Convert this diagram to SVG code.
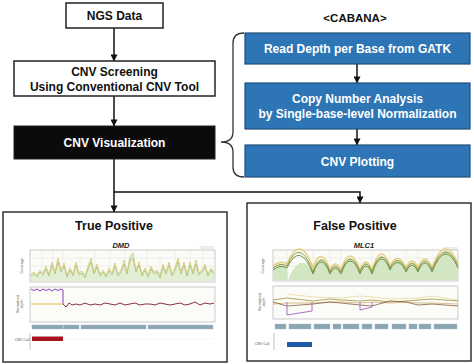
<svg xmlns="http://www.w3.org/2000/svg" width="474" height="364" viewBox="0 0 474 364">
<style>
.t{font-family:"Liberation Sans",Arial,sans-serif;font-weight:bold;text-anchor:middle}
.bx{fill:#fff;stroke:#222;stroke-width:1.5}
.bl{fill:#2e75b6;stroke:#1f4e79;stroke-width:1.2}
.w{fill:#fff}
.con{fill:none;stroke:#111;stroke-width:1.5}
.pnl{fill:#fbfcf8;stroke:#a8a8a8;stroke-width:0.6}
.grid{stroke:#e3e3e3;stroke-width:0.5}
.ex{fill:#8ba6b3;stroke:#a9bcc6;stroke-width:0.4}
.ax{font-family:"Liberation Sans",Arial,sans-serif;font-size:3.5px;fill:#555}
</style>
<defs>
<marker id="ah" viewBox="0 0 8 8" refX="7.5" refY="4" markerWidth="7" markerHeight="7" markerUnits="userSpaceOnUse" orient="auto">
<path d="M0,0 L8,4 L0,8 z" fill="#111"/>
</marker>
</defs>
<rect width="474" height="364" fill="#fff"/>

<g id="connectors">
<path class="con" d="M114,28 V61" marker-end="url(#ah)"/>
<path class="con" d="M114,96 V126" marker-end="url(#ah)"/>
<path class="con" d="M114,159 V192 H360 V203" marker-end="url(#ah)"/>
<path class="con" d="M114,192 V212" marker-end="url(#ah)"/>
<path class="con" d="M357,64 V83" marker-end="url(#ah)"/>
<path class="con" d="M357,129 V145" marker-end="url(#ah)"/>
<path d="M244,33 Q233,33 233,43 V132 Q233,142 221,142 Q233,142 233,152 V167 Q233,177 244,177" fill="none" stroke="#333" stroke-width="1.3"/>
</g>

<g id="ngs">
<rect class="bx" x="66" y="3" width="97" height="25"/>
<text class="t" x="114.5" y="20" font-size="12" fill="#111">NGS Data</text>
</g>
<g id="screening">
<rect class="bx" x="14" y="61" width="201" height="35"/>
<text class="t" x="114.5" y="75.5" font-size="12" fill="#111">CNV Screening</text>
<text class="t" x="114.5" y="90.5" font-size="12" fill="#111">Using Conventional CNV Tool</text>
</g>
<g id="visualization">
<rect x="14" y="126" width="201" height="33" fill="#0b0b0b" stroke="#222" stroke-width="1"/>
<text class="t w" x="114.5" y="146.5" font-size="12">CNV Visualization</text>
</g>

<g id="cabana-title">
<text class="t" x="355" y="21.5" font-size="11.5" fill="#111">&lt;CABANA&gt;</text>
</g>
<g id="read-depth">
<rect class="bl" x="245" y="33" width="225" height="31"/>
<text class="t w" x="357.5" y="53" font-size="12">Read Depth per Base from GATK</text>
</g>
<g id="copy-number">
<rect class="bl" x="245" y="83" width="225" height="46"/>
<text class="t w" x="357.5" y="103" font-size="12">Copy Number Analysis</text>
<text class="t w" x="357.5" y="117.5" font-size="12">by Single-base-level Normalization</text>
</g>
<g id="plotting">
<rect class="bl" x="245" y="145" width="225" height="32"/>
<text class="t w" x="357.5" y="165.5" font-size="12">CNV Plotting</text>
</g>

<g id="true-positive">
<rect x="3" y="212" width="224" height="150" fill="#fff" stroke="#333" stroke-width="1.5"/>
<text class="t" x="114" y="230" font-size="12.5" fill="#111">True Positive</text>
<text class="t" x="121" y="247.5" font-size="7.5" font-style="italic" fill="#222">DMD</text>
<rect x="200" y="246.5" width="14" height="2" fill="#eee" stroke="#ccc" stroke-width="0.3"/>
<rect class="pnl" x="30" y="250" width="185" height="32"/>
<g class="grid">
<path d="M42,250V282M53,250V282M63,250V282M80,250V282M95,250V282M110,250V282M125,250V282M147,250V282M160,250V282M175,250V282M190,250V282M203,250V282"/>
<path d="M42,287V322M53,287V322M63,287V322M80,287V322M95,287V322M110,287V322M125,287V322M147,287V322M160,287V322M175,287V322M190,287V322M203,287V322"/>
<path d="M30,258H215M30,266H215M30,274H215M30,292H215M30,298H215M30,310H215M30,316H215"/>
</g>
<polygon points="31,274 34,272 37,275 40,270 43,273 46,266 49,274 52,262 55,272 58,258 61,270 64,263 67,275 70,268 73,274 76,262 79,273 82,271 85,276 88,266 91,258 94,272 97,264 100,274 103,270 106,275 109,268 112,273 115,263 118,274 121,270 124,260 127,272 130,256 133,253 136,270 139,262 142,274 145,268 148,275 151,266 154,272 157,270 160,276 163,264 166,272 169,262 172,274 175,268 178,258 181,272 184,262 187,274 190,262 193,272 196,260 199,273 202,270 205,264 208,274 211,268 214,272 214,281 31,281" fill="#e2efd4"/>
<polyline points="31,276 34,274 37,277 40,272 43,275 46,269 49,276 52,265 55,274 58,262 61,272 64,266 67,277 70,270 73,276 76,265 79,275 82,273 85,278 88,269 91,262 94,274 97,267 100,276 103,272 106,277 109,271 112,275 115,266 118,276 121,272 124,264 127,274 130,260 133,258 136,272 139,265 142,276 145,270 148,277 151,269 154,274 157,272 160,278 163,267 166,274 169,265 172,276 175,270 178,262 181,274 184,265 187,276 190,265 193,274 196,264 199,275 202,272 205,267 208,276 211,270 214,274" fill="none" stroke="#7ea44e" stroke-width="0.5"/>
<polyline points="31,274 34,272 37,275 40,270 43,273 46,266 49,274 52,262 55,272 58,258 61,270 64,263 67,275 70,268 73,274 76,262 79,273 82,271 85,276 88,266 91,258 94,272 97,264 100,274 103,270 106,275 109,268 112,273 115,263 118,274 121,270 124,260 127,272 130,256 133,253 136,270 139,262 142,274 145,268 148,275 151,266 154,272 157,270 160,276 163,264 166,272 169,262 172,274 175,268 178,258 181,272 184,262 187,274 190,262 193,272 196,260 199,273 202,270 205,264 208,274 211,268 214,272" fill="none" stroke="#d9c060" stroke-width="0.7"/>
<rect class="pnl" x="30" y="287" width="185" height="35" fill="none"/>
<polyline points="31,304 63,304" fill="none" stroke="#e0c050" stroke-width="1"/>
<polyline points="31,289 34,290.5 37,289 40,291 43,289 46,290.5 49,289 52,291 55,289 58,290.5 61,289 63,290 63,304" fill="none" stroke="#8a3fc0" stroke-width="1"/>
<polyline points="63,304 66,307 69,303 72,305 76,304 80,305 85,303 90,305 95,304 100,305 105,303 110,304 115,305 120,303 125,305 130,304 135,303 140,305 145,304 150,304 155,305 160,303 165,304 170,305 175,304 180,303 185,305 190,304 195,302 200,305 205,303 210,304 214,303" fill="none" stroke="#7a1a2a" stroke-width="0.9"/>
<rect class="ex" x="32" y="325" width="31" height="4"/>
<rect class="ex" x="63.5" y="325" width="15.5" height="4"/>
<rect class="ex" x="81" y="325" width="65" height="4"/>
<rect class="ex" x="148" y="325" width="65" height="4"/>
<path d="M30,333V350" stroke="#999" stroke-width="0.6"/>
<path d="M30,339H215" stroke="#eee" stroke-width="0.5"/>
<rect x="32" y="336.5" width="31" height="4.5" fill="#a3141f"/>
<text class="ax" x="23" y="266" transform="rotate(-90 23 266)" text-anchor="middle">Coverage</text>
<text class="ax" x="19" y="304" transform="rotate(-90 19 304)" text-anchor="middle">Normalized</text>
<text class="ax" x="23" y="304" transform="rotate(-90 23 304)" text-anchor="middle">depth</text>
<text class="ax" x="22" y="341" text-anchor="middle">CNV Call</text>
</g>

<g id="false-positive">
<rect x="247" y="203" width="224" height="158" fill="#fff" stroke="#333" stroke-width="1.5"/>
<text class="t" x="355" y="230" font-size="12.5" fill="#111">False Positive</text>
<text class="t" x="364" y="248" font-size="7.5" font-style="italic" fill="#222">MLC1</text>
<rect x="443" y="247.5" width="14" height="2" fill="#eee" stroke="#ccc" stroke-width="0.3"/>
<rect class="pnl" x="273" y="250" width="185" height="31"/>
<g class="grid">
<path d="M287,250V281M313,250V281M330,250V281M341,250V281M360,250V281M372,250V281M390,250V281M406,250V281M418,250V281M432,250V281"/>
<path d="M287,286V319M313,286V319M330,286V319M341,286V319M360,286V319M372,286V319M390,286V319M406,286V319M418,286V319M432,286V319"/>
<path d="M273,258H458M273,266H458M273,274H458M273,292H458M273,298H458M273,308H458M273,314H458"/>
</g>
<path d="M273,268 Q280,262 287,266 L288,280 Q300,250 313,272 Q321,246 330,272 Q335,260 341,272 Q350,244 360,272 Q366,254 372,272 Q381,242 390,268 Q398,252 406,270 Q412,256 418,270 Q425,252 432,270 Q445,234 458,266 L458,280 L273,280 Z" fill="#d3e6c3"/>
<path d="M273,266 Q280,260 287,264 Q300,232 313,268 Q321,244 330,270 Q335,258 341,270 Q350,242 360,270 Q366,254 372,270 Q381,240 390,266 Q398,250 406,268 Q412,254 418,268 Q425,250 432,268 Q445,232 458,264" fill="none" stroke="#e2cf80" stroke-width="1.6"/>
<path d="M273,268 Q280,262 287,266 Q300,236 313,272 Q321,248 330,272 Q335,260 341,272 Q350,246 360,272 Q366,256 372,272 Q381,244 390,268 Q398,252 406,270 Q412,256 418,270 Q425,252 432,270 Q445,236 458,266" fill="none" stroke="#8c8a3a" stroke-width="0.9"/>
<path d="M273,270 Q280,264 287,268 Q300,240 313,274 Q321,250 330,274 Q335,262 341,274 Q350,248 360,274 Q366,258 372,274 Q381,246 390,270 Q398,254 406,272 Q412,258 418,272 Q425,254 432,272 Q445,238 458,268" fill="none" stroke="#5d8a35" stroke-width="0.9"/>
<rect class="pnl" x="273" y="286" width="185" height="33" fill="none"/>
<polyline points="287,294 313,297 341,298 360,296 372,297 390,299 418,298 432,296 458,300" fill="none" stroke="#e8d898" stroke-width="0.8"/>
<polyline points="273,300 287,298 313,301 330,299 341,300 360,301 372,300 390,302 406,301 418,300 432,299 458,301" fill="none" stroke="#a09040" stroke-width="0.8"/>
<polyline points="273,304 287,303 313,303 330,302 341,302 360,303 372,302 390,303 406,302 418,303 432,303 458,304" fill="none" stroke="#d0b070" stroke-width="0.8"/>
<polyline points="273,302 287,306 313,304 330,302 341,303 360,305 372,306 390,301 406,302 418,305 432,304 458,306" fill="none" stroke="#8a5a3a" stroke-width="0.8"/>
<polyline points="287,302 287,315 312,311 312,302" fill="none" stroke="#a060c8" stroke-width="0.9"/>
<polyline points="360,302 360,310 372,307 372,302" fill="none" stroke="#a060c8" stroke-width="0.9"/>
<rect class="ex" x="275" y="324" width="11" height="5"/>
<rect class="ex" x="289" y="324" width="22" height="5"/>
<rect class="ex" x="314" y="324" width="16" height="5"/>
<rect class="ex" x="333" y="324" width="8" height="5"/>
<rect class="ex" x="343" y="324" width="16" height="5"/>
<rect class="ex" x="362" y="324" width="10" height="5"/>
<rect class="ex" x="375" y="324" width="13" height="5"/>
<rect class="ex" x="392" y="324" width="14" height="5"/>
<rect class="ex" x="409" y="324" width="8" height="5"/>
<rect class="ex" x="419" y="324" width="12" height="5"/>
<rect class="ex" x="434" y="324" width="23" height="5"/>
<path d="M274,333V350" stroke="#999" stroke-width="0.6"/>
<path d="M274,344H458" stroke="#eee" stroke-width="0.5"/>
<rect x="287" y="342" width="25" height="5" fill="#1f5aa6"/>
<text class="ax" x="264" y="266" transform="rotate(-90 264 266)" text-anchor="middle">Coverage</text>
<text class="ax" x="261" y="302" transform="rotate(-90 261 302)" text-anchor="middle">Normalized</text>
<text class="ax" x="265" y="302" transform="rotate(-90 265 302)" text-anchor="middle">depth</text>
<text class="ax" x="262" y="345" text-anchor="middle">CNV Call</text>
</g>
</svg>
